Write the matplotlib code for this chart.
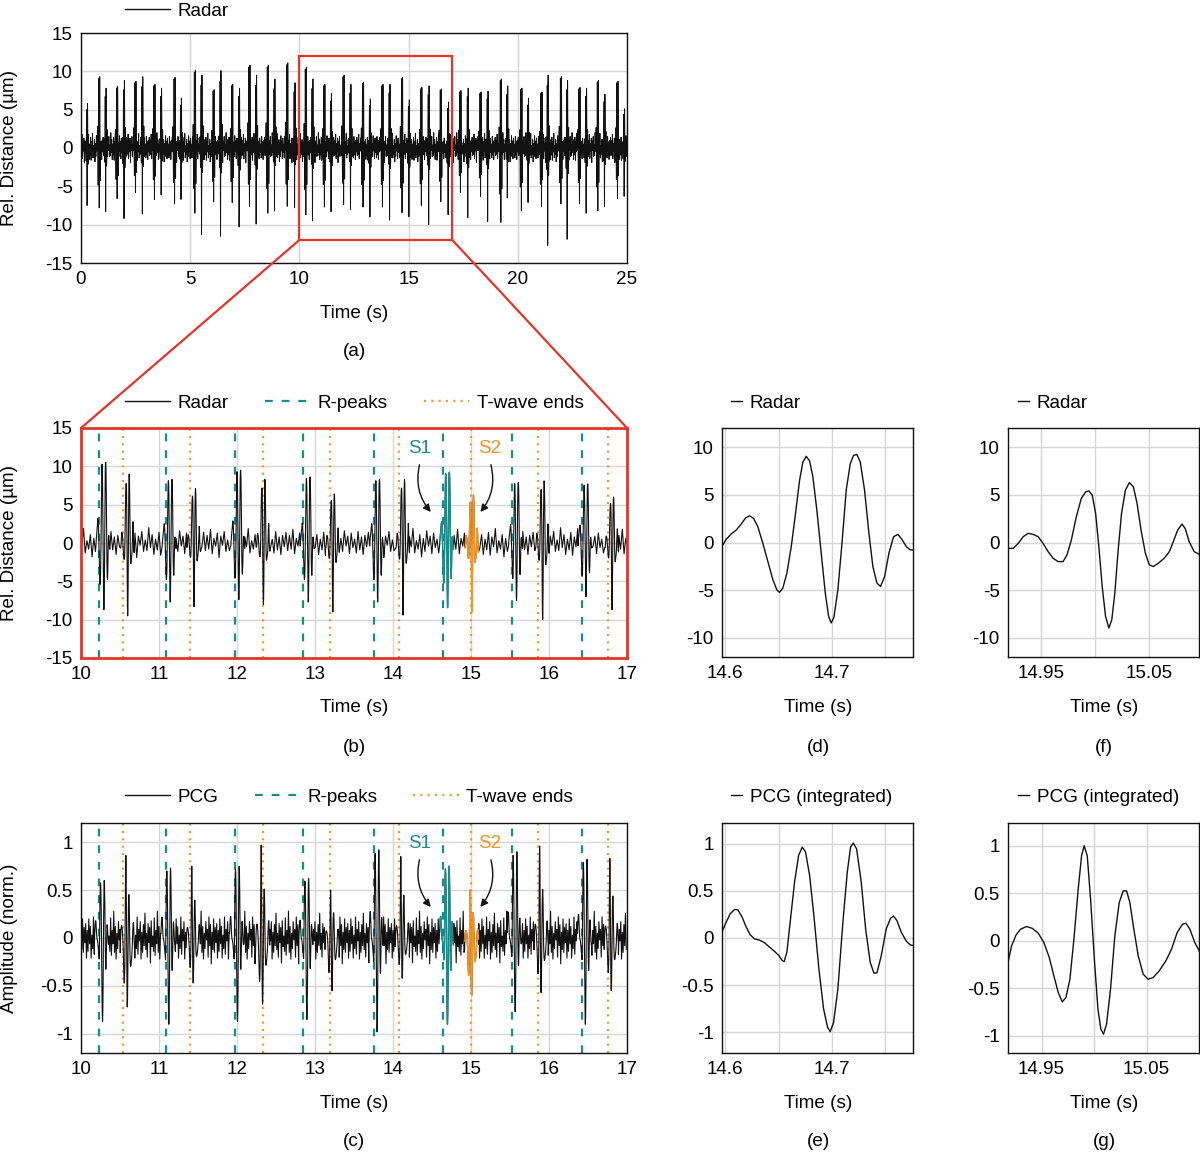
import numpy as np
import matplotlib
matplotlib.use("Agg")
import matplotlib.pyplot as plt
from matplotlib.lines import Line2D
from matplotlib.patches import Rectangle, ConnectionPatch
from matplotlib.ticker import FuncFormatter

plt.rcParams.update({"font.family": ["Liberation Sans", "DejaVu Sans"], "font.size": 13.6,
                     "axes.unicode_minus": False})
TEAL, ORANGE, RED, INK, GRID = "#1b8c8c", "#f7931e", "#e0362c", "#111111", "#d6d6d6"
W, H = 1200, 1152
FS = 13.6

# ---------------- values ----------------
# (d) radar close-up of S1
RADAR_S1_T = [14.5969, 14.6009, 14.6056, 14.6103, 14.6150, 14.6190, 14.6228, 14.6266, 14.6306,
              14.6353, 14.6400, 14.6447, 14.6484, 14.6509, 14.6540, 14.6578, 14.6619, 14.6659,
              14.6697, 14.6728, 14.6760, 14.6791, 14.6822, 14.6859, 14.6900, 14.6938, 14.6969,
              14.6994, 14.7019, 14.7056, 14.7097, 14.7134, 14.7172, 14.7203, 14.7234, 14.7266,
              14.7306, 14.7347, 14.7384, 14.7422, 14.7456, 14.7494, 14.7534, 14.7578, 14.7619,
              14.7656, 14.7697, 14.7734, 14.7759]
RADAR_S1_Y = [-0.43, 0.33, 0.89, 1.30, 1.93, 2.56, 2.80, 2.52, 1.65, -0.09, -2.00, -3.91, -4.96,
              -5.23, -4.78, -3.22, -0.43, 3.04, 6.52, 8.43, 9.03, 8.54, 6.87, 3.39, -1.13, -5.30,
              -7.74, -8.43, -7.83, -4.96, 0.26, 5.48, 8.26, 9.13, 9.23, 8.43, 5.48, 0.96, -2.52,
              -4.26, -4.61, -3.57, -1.13, 0.61, 0.85, 0.33, -0.43, -0.78, -0.78]
# (f) radar close-up of S2
RADAR_S2_T = [14.9192, 14.9238, 14.9285, 14.9331, 14.9377, 14.9423, 14.9469, 14.9515, 14.9562,
              14.9608, 14.9654, 14.9700, 14.9737, 14.9777, 14.9823, 14.9869, 14.9909, 14.9940,
              14.9971, 15.0002, 15.0032, 15.0063, 15.0094, 15.0125, 15.0152, 15.0180, 15.0211,
              15.0242, 15.0278, 15.0315, 15.0352, 15.0386, 15.0423, 15.0463, 15.0500, 15.0537,
              15.0583, 15.0638, 15.0685, 15.0722, 15.0762, 15.0802, 15.0832, 15.0869, 15.0915,
              15.0955]
RADAR_S2_Y = [-0.61, -0.61, -0.09, 0.61, 0.96, 0.85, 0.61, -0.09, -0.96, -1.65, -2.00, -2.00,
              -1.30, 0.26, 2.70, 4.61, 5.30, 5.41, 4.96, 3.04, -0.43, -4.61, -7.74, -8.96, -8.09,
              -5.30, -0.78, 3.04, 5.48, 6.28, 5.83, 4.09, 1.30, -1.13, -2.35, -2.52, -2.17, -1.65,
              -0.96, 0.09, 1.30, 1.93, 1.48, 0.09, -0.96, -1.20]
# (e) integrated PCG close-up of S1
PCG_S1_T = [14.5969, 14.6009, 14.6047, 14.6088, 14.6119, 14.6159, 14.6197, 14.6234, 14.6275,
            14.6322, 14.6369, 14.6416, 14.6463, 14.6503, 14.6534, 14.6553, 14.6578, 14.6609,
            14.6650, 14.6688, 14.6722, 14.6753, 14.6791, 14.6831, 14.6878, 14.6922, 14.6959,
            14.6984, 14.7016, 14.7056, 14.7103, 14.7144, 14.7175, 14.7200, 14.7231, 14.7275,
            14.7316, 14.7359, 14.7394, 14.7422, 14.7463, 14.7509, 14.7550, 14.7578, 14.7609,
            14.7650, 14.7697, 14.7734, 14.7759]
PCG_S1_Y = [0.062, 0.168, 0.257, 0.303, 0.299, 0.221, 0.115, 0.034, -0.009, -0.023, -0.051,
            -0.097, -0.143, -0.186, -0.239, -0.250, -0.150, 0.168, 0.593, 0.876, 0.965, 0.912,
            0.664, 0.239, -0.327, -0.752, -0.947, -0.993, -0.894, -0.540, 0.168, 0.699, 0.965,
            1.007, 0.947, 0.593, 0.097, -0.257, -0.373, -0.370, -0.186, 0.097, 0.210, 0.232,
            0.186, 0.062, -0.034, -0.073, -0.080]
# (g) integrated PCG close-up of S2
PCG_S2_T = [14.9183, 14.9214, 14.9256, 14.9300, 14.9357, 14.9414, 14.9468, 14.9522, 14.9573,
            14.9617, 14.9659, 14.9697, 14.9732, 14.9770, 14.9808, 14.9849, 14.9881, 14.9906,
            14.9935, 14.9967, 15.0005, 15.0037, 15.0065, 15.0090, 15.0119, 15.0157, 15.0198,
            15.0240, 15.0278, 15.0310, 15.0341, 15.0379, 15.0421, 15.0468, 15.0516, 15.0563,
            15.0621, 15.0684, 15.0738, 15.0792, 15.0843, 15.0875, 15.0913, 15.0960, 15.1002]
PCG_S2_Y = [-0.211, -0.053, 0.060, 0.123, 0.151, 0.130, 0.081, -0.018, -0.175, -0.368, -0.544,
            -0.642, -0.596, -0.404, 0.018, 0.544, 0.895, 1.000, 0.895, 0.439, -0.228, -0.719,
            -0.930, -0.982, -0.877, -0.509, 0.053, 0.404, 0.526, 0.526, 0.404, 0.123, -0.158,
            -0.351, -0.404, -0.386, -0.316, -0.211, -0.088, 0.088, 0.175, 0.186, 0.123, -0.018,
            -0.105]
S1_REF_RADAR, S2_REF_RADAR, S1_REF_PCG, S2_REF_PCG = 14.676, 14.994, 14.672, 14.9906

# heart-sound spikes in the radar trace, panel (a): time (s), peak up / down (um)
RADAR_S1_TIMES = [0.81, 1.63, 2.47, 3.34, 4.26, 5.19, 6.05, 6.90, 7.69, 8.53, 9.42, 10.27, 11.12,
                  12.00, 12.89, 13.78, 14.676, 15.56, 16.45, 17.35, 18.27, 19.20, 20.14, 21.06,
                  21.95, 22.80, 23.64, 24.54]
RADAR_S1_UP = [9.3, 8.0, 8.7, 8.3, 9.2, 10.1, 7.6, 8.3, 10.8, 10.8, 11.1, 10.5, 8.3, 9.5, 8.6,
               8.3, 9.23, 7.9, 7.7, 7.5, 7.3, 9.0, 7.8, 7.3, 9.3, 7.9, 8.8, 8.7]
RADAR_S1_DOWN = [7.8, 6.6, 5.8, 6.7, 7.3, 8.5, 7.0, 7.1, 7.6, 8.5, 7.6, 8.7, 7.7, 7.4, 7.7, 7.7,
                 8.43, 7.5, 7.0, 5.8, 6.3, 9.7, 8.2, 7.6, 7.3, 7.3, 8.2, 6.6]
RADAR_S2_TIMES = [0.26, 1.11, 1.95, 2.79, 3.65, 4.56, 5.50, 6.37, 7.22, 8.00, 8.84, 9.76, 10.58,
                  11.43, 12.32, 13.21, 14.11, 14.994, 15.90, 16.79, 17.69, 18.60, 19.50, 20.45,
                  21.35, 22.24, 23.11, 23.95, 24.85]
RADAR_S2_UP = [5.8, 7.8, 8.8, 9.3, 7.8, 6.5, 9.5, 10.1, 7.8, 9.5, 9.0, 8.5, 9.0, 7.1, 8.3, 6.4,
               8.3, 6.28, 8.1, 6.0, 7.8, 7.4, 8.1, 6.5, 9.5, 8.8, 7.8, 7.0, 5.1]
RADAR_S2_DOWN = [7.5, 8.3, 9.2, 8.6, 6.1, 6.7, 11.3, 11.5, 10.3, 9.9, 8.2, 7.8, 9.5, 8.3, 8.0,
                 9.0, 9.4, 8.96, 10.0, 8.7, 9.1, 9.6, 6.5, 7.1, 12.7, 11.9, 8.5, 7.6, 6.3]
# PCG spikes, panel (c)
PCG_S1_TIMES = [10.25, 11.10, 11.98, 12.87, 13.77, 14.672, 15.54, 16.44]
PCG_S1_UP = [0.60, 0.73, 0.75, 0.62, 0.92, 0.75, 0.90, 0.82]
PCG_S1_DOWN = [0.87, 0.90, 0.87, 0.85, 0.98, 0.90, 0.77, 0.90]
PCG_S2_TIMES = [10.575, 11.42, 12.31, 13.20, 14.10, 14.99, 15.88, 16.78]
PCG_S2_UP = [0.86, 0.75, 0.97, 0.50, 0.85, 0.50, 0.96, 0.83]
PCG_S2_DOWN = [0.72, 0.47, 0.69, 0.55, 0.42, 0.60, 0.57, 0.55]
# background ripple between heart sounds
RADAR_BG = [1.0, -0.8, 1.8, -1.4, 0.6, -0.4, 1.3, -1.9, 0.9, -0.3, 1.5, -1.1, 0.4, -1.0, 2.0,
            -0.6, 1.1, -1.5, 0.5, -0.9, 1.4, -1.6, 0.8, -0.5, 1.9, -1.3, 0.3, -0.8, 1.1, -1.8,
            0.6, -1.1, 1.6, -0.4, 0.9, -1.4, 1.3, -0.6, 0.5, -1.3, 1.5, -0.9, 0.8, -1.5, 1.0,
            -0.5, 1.4, -1.0]
PCG_BG = [0.08, -0.14, 0.20, -0.06, 0.12, -0.21, 0.03, -0.11, 0.22, -0.17, 0.09, -0.03, 0.17,
          -0.22, 0.06, -0.15, 0.14, -0.08, 0.26, -0.12, 0.05, -0.20, 0.15, -0.05, 0.11, -0.26,
          0.18, -0.09, 0.02, -0.14, 0.21, -0.18, 0.08, -0.06, 0.28, -0.15, 0.12, -0.22, 0.05,
          -0.11, 0.17, -0.02, 0.09, -0.20, 0.22, -0.08, 0.14, -0.27, 0.06, -0.12, 0.20, -0.15,
          0.11, -0.05, 0.15, -0.21]
R_PEAKS = [10.230, 11.088, 11.971, 12.848, 13.760, 14.642, 15.525, 16.422]
T_ENDS = [10.544, 11.402, 12.328, 13.191, 14.083, 14.995, 15.853, 16.755]


def place(tpl_t, tpl_y, ref, t_ev, up, down):
    tt = np.asarray(tpl_t) - ref + t_ev
    yy = np.asarray(tpl_y, dtype=float)
    return tt, np.where(yy > 0, yy * up / yy.max(), yy * down / -yy.min())


def compose(t0, t1, bursts, bg, dt):
    """background ripple samples in the gaps, heart-sound bursts placed on top of the timeline"""
    bg = np.asarray(bg)
    ts, ys, cursor = [], [], t0
    for tt, yy in sorted(bursts, key=lambda b: b[0][0]) + [(np.array([t1]), np.array([np.nan]))]:
        k = np.arange(int(np.ceil(cursor / dt)), int(np.floor(tt[0] / dt)) + 1)
        k = k[(k * dt >= cursor) & (k * dt < tt[0])]
        ts.extend(k * dt); ys.extend(bg[k % len(bg)])
        ts.extend(tt); ys.extend(yy)
        cursor = tt[-1]
    return np.array(ts[:-1]), np.array(ys[:-1])


radar_t, radar_y = compose(0, 25,
    [place(RADAR_S1_T, RADAR_S1_Y, S1_REF_RADAR, *e) for e in zip(RADAR_S1_TIMES, RADAR_S1_UP, RADAR_S1_DOWN)] +
    [place(RADAR_S2_T, RADAR_S2_Y, S2_REF_RADAR, *e) for e in zip(RADAR_S2_TIMES, RADAR_S2_UP, RADAR_S2_DOWN)],
    RADAR_BG, 0.022)
pcg_t, pcg_y = compose(10, 17,
    [place(PCG_S1_T, PCG_S1_Y, S1_REF_PCG, *e) for e in zip(PCG_S1_TIMES, PCG_S1_UP, PCG_S1_DOWN)] +
    [place(PCG_S2_T, PCG_S2_Y, S2_REF_PCG, *e) for e in zip(PCG_S2_TIMES, PCG_S2_UP, PCG_S2_DOWN)],
    PCG_BG, 0.010)

fig = plt.figure(figsize=(W / 100, H / 100), dpi=100)


def box(l, t, r, b):
    return fig.add_axes([l / W, 1 - b / H, (r - l) / W, (b - t) / H])


fmt = FuncFormatter(lambda v, _: f"{v:g}")


def style(ax, spine=INK, lw=1.0):
    ax.grid(True, which="both", color=GRID, lw=1.0)
    ax.set_axisbelow(True)
    for s in ax.spines.values():
        s.set_color(spine); s.set_linewidth(lw)
    ax.tick_params(which="both", direction="in", length=0, pad=6, labelsize=FS)
    ax.xaxis.set_major_formatter(fmt); ax.yaxis.set_major_formatter(fmt)


def ftext(x, y, s, **kw):
    fig.text(x / W, 1 - y / H, s, ha="center", va="center", **kw)


ax_a = box(81, 33, 627, 263)
ax_b = box(81, 428, 627, 658)
ax_c = box(81, 823, 627, 1053)
ax_d = box(722, 428, 913, 657)
ax_f = box(1008, 428, 1199, 657)
ax_e = box(722, 823, 913, 1053)
ax_g = box(1008, 823, 1199, 1053)

# (a) full radar trace
style(ax_a)
ax_a.plot(radar_t, radar_y, color=INK, lw=0.7)
ax_a.set_xlim(0, 25); ax_a.set_ylim(-15, 15)
ax_a.set_xticks(range(0, 26, 5)); ax_a.set_yticks(range(-15, 16, 5))
ax_a.add_patch(Rectangle((10, -12), 7, 24, fill=False, ec=RED, lw=1.6, zorder=4))

# (b), (c) zoomed traces with ECG markers
for ax, (tt, yy), lim, ticks in ((ax_b, (radar_t, radar_y), 15, range(-15, 16, 5)),
                                 (ax_c, (pcg_t, pcg_y), 1.2, [-1, -0.5, 0, 0.5, 1])):
    style(ax, RED if ax is ax_b else INK, 2.0 if ax is ax_b else 1.0)
    for r in R_PEAKS:
        ax.axvline(r, color=TEAL, lw=1.6, dashes=(3.5, 4), zorder=1.8)
    for t in T_ENDS:
        ax.axvline(t, color=ORANGE, lw=1.6, dashes=(0.9, 2.4), zorder=1.8)
    ax.plot(tt, yy, color=INK, lw=0.8, zorder=2)
    m1 = (tt >= 14.597) & (tt <= 14.776); m2 = (tt >= 14.919) & (tt <= 15.096)
    ax.plot(tt[m1], yy[m1], color=TEAL, lw=1.0, zorder=2.5)
    ax.plot(tt[m2], yy[m2], color=ORANGE, lw=1.0, zorder=2.5)
    ax.set_xlim(10, 17); ax.set_ylim(-lim, lim)
    ax.set_xticks(range(10, 18)); ax.set_yticks(list(ticks))
    ytxt, yfrom, yto = 0.82 * lim, 0.68 * lim, 0.27 * lim
    ax.text(14.34, ytxt, "S1", color=TEAL, fontsize=FS, ha="center", va="center")
    ax.text(15.245, ytxt, "S2", color=ORANGE, fontsize=FS, ha="center", va="center")
    ax.annotate("", xy=(14.485, yto), xytext=(14.34, yfrom),
                arrowprops=dict(arrowstyle="-|>", connectionstyle="arc3,rad=0.25", color=INK,
                                lw=1.0, mutation_scale=11, shrinkA=0, shrinkB=0))
    ax.annotate("", xy=(15.12, yto), xytext=(15.255, yfrom),
                arrowprops=dict(arrowstyle="-|>", connectionstyle="arc3,rad=-0.25", color=INK,
                                lw=1.0, mutation_scale=11, shrinkA=0, shrinkB=0))

# close-ups
for ax, tt, yy, xl, major, minor, yl, yt in (
        (ax_d, RADAR_S1_T, RADAR_S1_Y, (14.597, 14.776), [14.6, 14.7], [14.65, 14.75], (-12, 12), [-10, -5, 0, 5, 10]),
        (ax_f, RADAR_S2_T, RADAR_S2_Y, (14.919, 15.096), [14.95, 15.05], [15.0], (-12, 12), [-10, -5, 0, 5, 10]),
        (ax_e, PCG_S1_T, PCG_S1_Y, (14.597, 14.776), [14.6, 14.7], [14.65, 14.75], (-1.22, 1.22), [-1, -0.5, 0, 0.5, 1]),
        (ax_g, PCG_S2_T, PCG_S2_Y, (14.918, 15.100), [14.95, 15.05], [15.0], (-1.18, 1.24), [-1, -0.5, 0, 0.5, 1])):
    style(ax)
    ax.plot(tt, yy, color=INK, lw=1.0)
    ax.set_xlim(*xl); ax.set_ylim(*yl)
    ax.set_xticks(major); ax.set_xticks(minor, minor=True); ax.set_yticks(yt)

# red zoom connectors
for xa, xb in ((10, 0), (17, 1)):
    fig.add_artist(ConnectionPatch(xyA=(xa, -12), coordsA=ax_a.transData, xyB=(xb, 1),
                                   coordsB=ax_b.transAxes, color=RED, lw=1.6, zorder=5))

# legends
solid = Line2D([], [], color=INK, lw=1.0)
rpk = Line2D([], [], color=TEAL, lw=1.6, dashes=(3.5, 4))
twe = Line2D([], [], color=ORANGE, lw=1.6, dashes=(0.9, 2.4))
leg_kw = dict(loc="center left", frameon=False, borderpad=0, borderaxespad=0, fontsize=FS,
              handletextpad=0.4)
fig.legend([solid], ["Radar"], bbox_to_anchor=(125 / W, 1 - 11 / H), handlelength=2.4, **leg_kw)
for y, name in ((403, "Radar"), (797, "PCG")):
    fig.legend([solid, rpk, twe], [name, "R-peaks", "T-wave ends"], ncol=3,
               bbox_to_anchor=(125 / W, 1 - y / H), handlelength=2.4, columnspacing=1.9, **leg_kw)
for x, y, name in ((731, 403, "Radar"), (1018, 403, "Radar"),
                   (731, 797, "PCG (integrated)"), (1018, 797, "PCG (integrated)")):
    fig.legend([solid], [name], bbox_to_anchor=(x / W, 1 - y / H), handlelength=0.6, **leg_kw)

# labels
ftext(10, 148, "Rel. Distance (µm)", rotation=90)
ftext(10, 543, "Rel. Distance (µm)", rotation=90)
ftext(10, 938, "Amplitude (norm.)", rotation=90)
for x, y in ((354, 313), (354, 708), (354, 1103), (818, 708), (1104, 708), (818, 1103), (1104, 1103)):
    ftext(x, y, "Time (s)")
for x, y, s in ((354, 352, "(a)"), (354, 747, "(b)"), (354, 1142, "(c)"), (818, 747, "(d)"),
                (1104, 747, "(f)"), (818, 1142, "(e)"), (1104, 1142, "(g)")):
    ftext(x, y, s)

fig.savefig("out.png", dpi=100)
